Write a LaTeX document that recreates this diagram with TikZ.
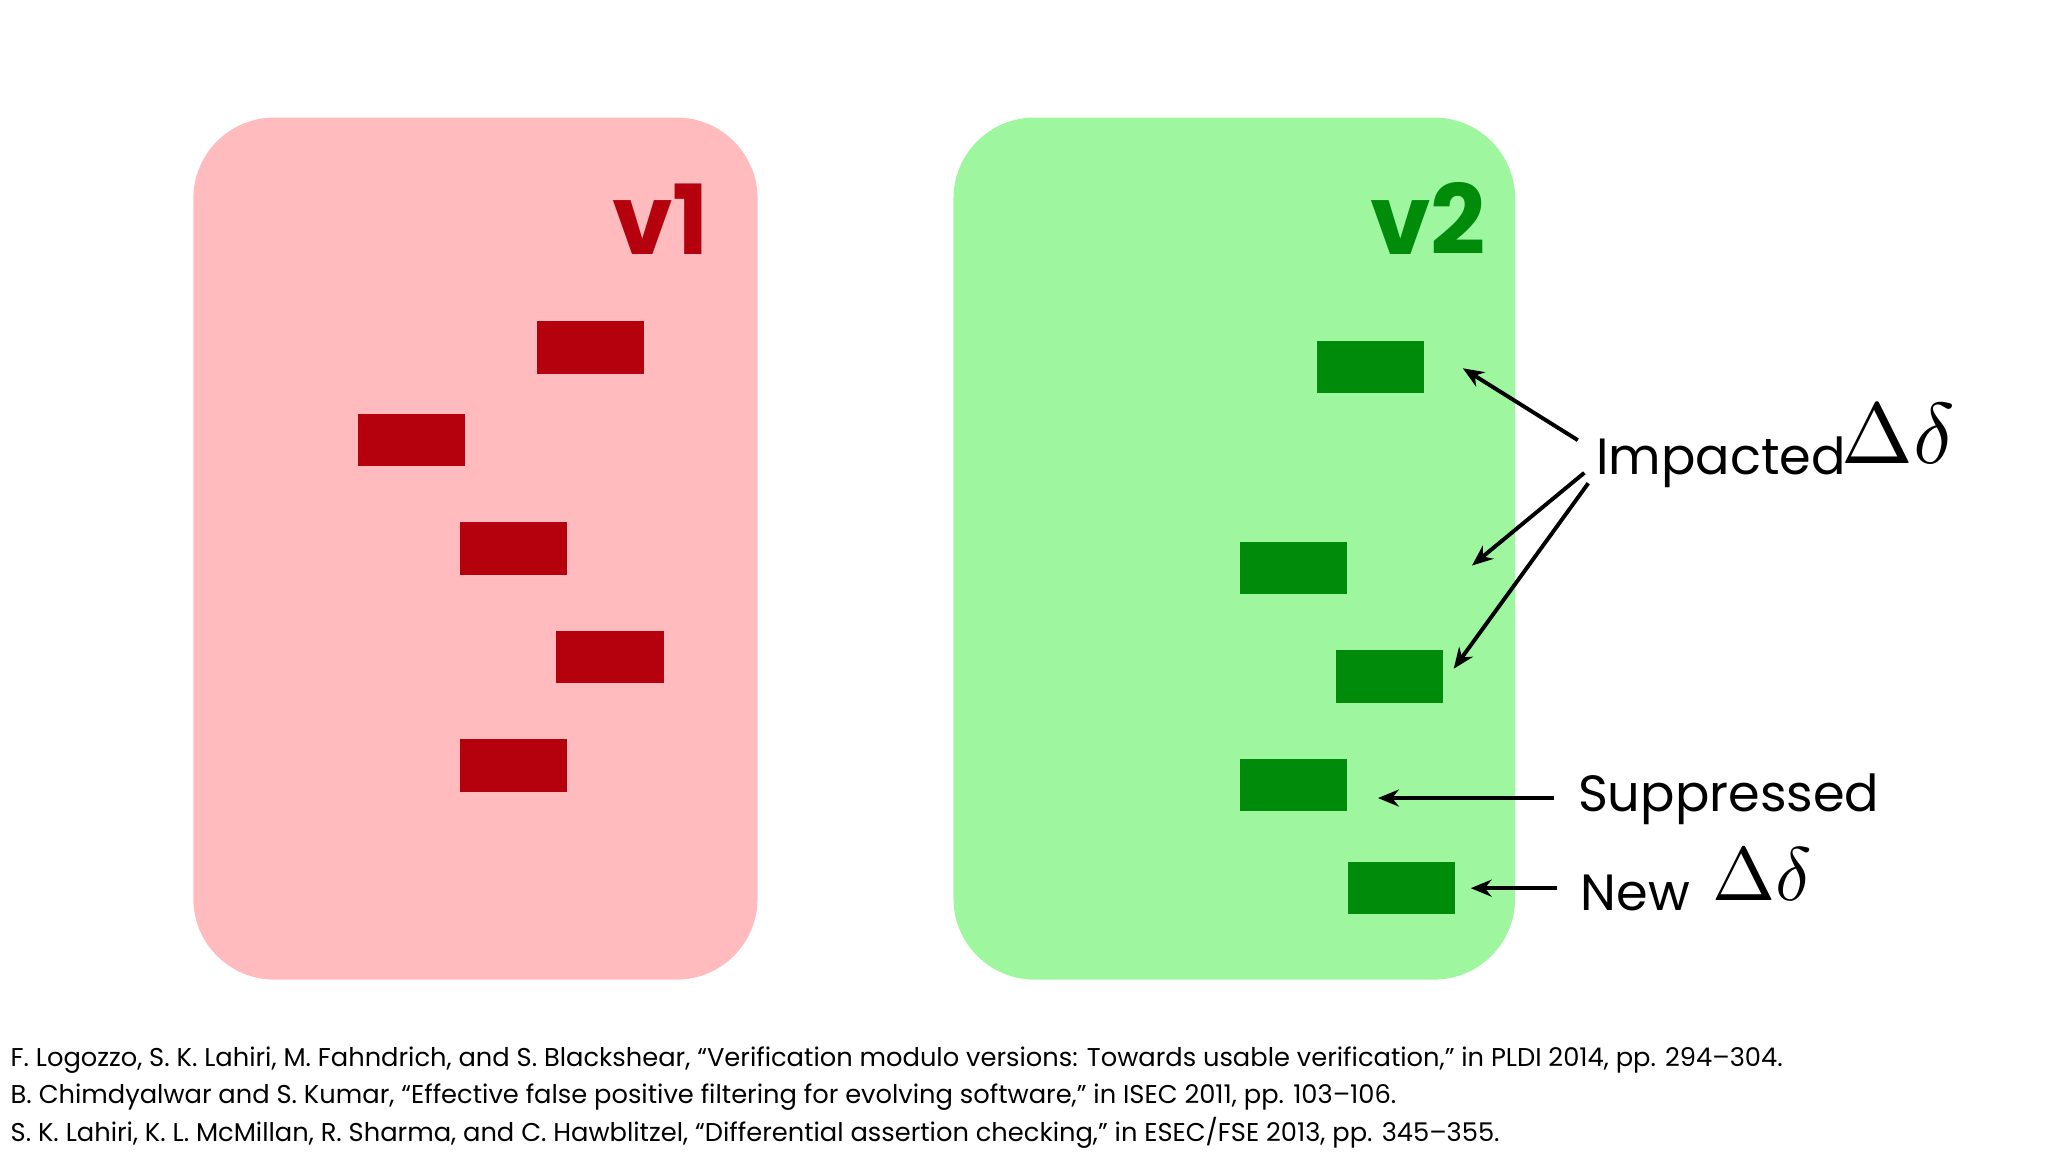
\documentclass[tikz,border=0pt]{standalone}
\usepackage{fontspec}
\usepackage{graphicx}
\setmainfont{Poppins}
\usetikzlibrary{arrows.meta}
\definecolor{redbg}{HTML}{FFBBBD}
\definecolor{greenbg}{HTML}{9EF79E}
\definecolor{redbar}{HTML}{B5000E}
\definecolor{greenbar}{HTML}{008C0A}
\tikzset{
  panel/.style={rounded corners=62pt},
  rbar/.style={fill=redbar},
  gbar/.style={fill=greenbar},
  arr/.style={line width=3pt,-{Stealth[length=16pt,width=13pt]}},
  lbl/.style={font=\fontsize{39}{43}\selectfont,anchor=west,inner sep=0pt},
  ref/.style={font=\fontsize{19.7}{22}\selectfont,anchor=west,inner sep=0pt}
}
\begin{document}
\begin{tikzpicture}[x=1pt,y=-1pt]
\useasboundingbox[fill=white] (0,0) rectangle (1568,882);
\fill[redbg,panel] (148,90) rectangle (580,750);
\fill[greenbg,panel] (730,90) rectangle (1160,750);
\node[anchor=south east,inner sep=0pt,text=redbar,font=\fontsize{74}{78}\selectfont\bfseries] (v1) at (543,195) {v1};
\node[anchor=south east,inner sep=0pt,text=greenbar,font=\fontsize{74}{78}\selectfont\bfseries] (v2) at (1138,195) {v2};
\fill[rbar] (411,246) rectangle (493,286);
\fill[rbar] (274,317) rectangle (356,357);
\fill[rbar] (352,400) rectangle (434,440);
\fill[rbar] (426,483) rectangle (508,523);
\fill[rbar] (352,566) rectangle (434,606);
\fill[gbar] (1008,261) rectangle (1090,301);
\fill[gbar] (949,415) rectangle (1031,455);
\fill[gbar] (1023,498) rectangle (1105,538);
\fill[gbar] (949,581) rectangle (1031,621);
\fill[gbar] (1032,660) rectangle (1114,700);
\node[lbl] (imp) at (1222,354) {Impacted};
\node[anchor=south west,inner sep=0pt] (d1) at (1410,355) {\scalebox{6.6}{$\Delta\delta$}};
\node[lbl] (sup) at (1208,612) {Suppressed};
\node[lbl] (new) at (1210,684) {New};
\node[anchor=south west,inner sep=0pt] (d2) at (1311,690) {\scalebox{5.8}{$\Delta\delta$}};
\coordinate (i1) at (1208,337); \coordinate (t1) at (1120,282);
\coordinate (i2) at (1213,362); \coordinate (t2) at (1127,433);
\coordinate (i3) at (1216,370); \coordinate (t3) at (1113,512);
\coordinate (s1) at (1190,611); \coordinate (s2) at (1055,611);
\coordinate (n1) at (1192,680); \coordinate (n2) at (1126,680);
\draw[arr] (i1) -- (t1);
\draw[arr] (i2) -- (t2);
\draw[arr] (i3) -- (t3);
\draw[arr] (s1) -- (s2);
\draw[arr] (n1) -- (n2);
\node[ref] (r1) at (8,812) {F. Logozzo, S. K. Lahiri, M. Fahndrich, and S. Blackshear, “Verification modulo versions: Towards usable verification,” in PLDI 2014, pp. 294–304.};
\node[ref] (r2) at (8,840) {B. Chimdyalwar and S. Kumar, “Effective false positive filtering for evolving software,” in ISEC 2011, pp. 103–106.};
\node[ref] (r3) at (8,867) {S. K. Lahiri, K. L. McMillan, R. Sharma, and C. Hawblitzel, “Differential assertion checking,” in ESEC/FSE 2013, pp. 345–355.};
\end{tikzpicture}
\end{document}
